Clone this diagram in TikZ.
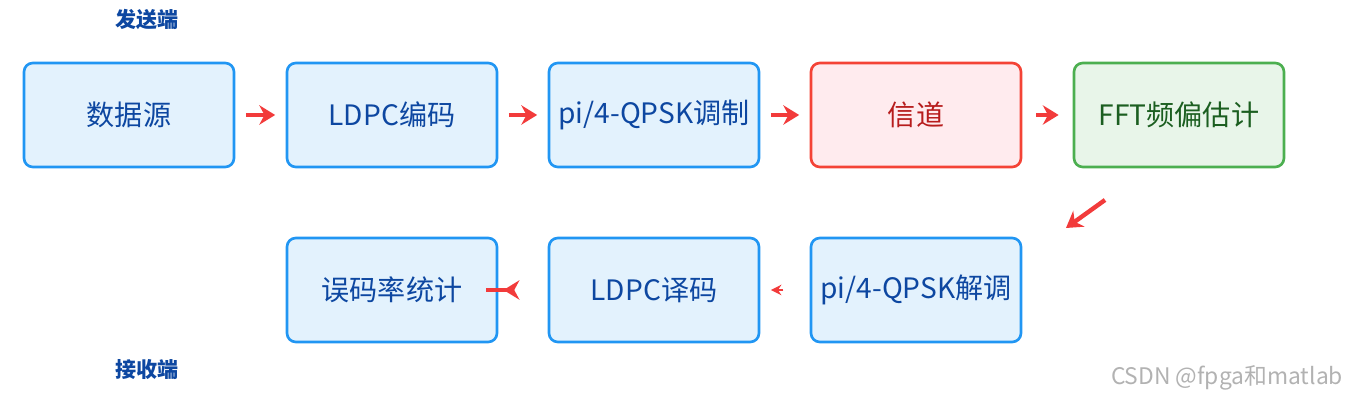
\documentclass[tikz,border=0pt]{standalone}
\usepackage{fontspec}
\setmainfont{Liberation Sans}
\newfontfamily\cjk{Noto Sans CJK SC}
\usetikzlibrary{arrows.meta}
\definecolor{bluebd}{HTML}{2196F3}
\definecolor{bluefl}{HTML}{E3F2FD}
\definecolor{bluetx}{HTML}{0D47A1}
\definecolor{redbd}{HTML}{F44336}
\definecolor{redfl}{HTML}{FFEBEE}
\definecolor{redtx}{HTML}{B71C1C}
\definecolor{grnbd}{HTML}{4CAF50}
\definecolor{grnfl}{HTML}{E8F5E9}
\definecolor{grntx}{HTML}{1B5E20}
\definecolor{arr}{HTML}{F23B3B}
\tikzset{
  blk/.style={draw=bluebd,fill=bluefl,text=bluetx,line width=1.5pt,rounded corners=5pt,
    minimum width=4.2cm,minimum height=2.08cm,font=\cjk\fontsize{16}{18}\selectfont},
  chan/.style={blk,draw=redbd,fill=redfl,text=redtx},
  fft/.style={blk,draw=grnbd,fill=grnfl,text=grntx},
  flow/.style={arr,line width=2.5pt,-{Stealth[length=9pt,width=11pt]}},
  side/.style={text=bluetx,font=\cjk\bfseries\fontsize{12}{14}\selectfont}
}
\begin{document}
\begin{tikzpicture}[x=0.02cm,y=-0.02cm]
  \useasboundingbox (0,0) rectangle (1360,401);
  % sender side
  \node[side] (tx) at (147,20) {发送端};
  \node[blk] (src) at (129,115) {数据源};
  \node[blk] (enc) at (392,115) {LDPC编码};
  \node[blk] (mod) at (654,115) {pi/4-QPSK调制};
  \node[chan] (ch) at (916,115) {信道};
  \node[fft] (est) at (1179,115) {FFT频偏估计};
  % receiver side
  \node[blk] (dem) at (916,290) {pi/4-QPSK解调};
  \node[blk] (dec) at (654,290) {LDPC译码};
  \node[blk] (ber) at (392,290) {误码率统计};
  \node[side] (rx) at (147,370) {接收端};
  % arrows
  \draw[flow,shorten <=6pt,shorten >=6pt] (src) -- (enc);
  \draw[flow,shorten <=6pt,shorten >=6pt] (enc) -- (mod);
  \draw[flow,shorten <=6pt,shorten >=6pt] (mod) -- (ch);
  \draw[flow,shorten <=8pt,shorten >=8pt] (ch) -- (est);
  \coordinate (a1) at (1105,200);
  \coordinate (a2) at (1066,228);
  \draw[flow] (a1) -- (a2);
  \draw[flow,line width=1.2pt,-{Stealth[length=6pt,width=6pt]},shorten <=15pt,shorten >=6pt] (dem) -- (dec);
  \draw[flow,shorten <=35pt,shorten >=3pt] (dec) -- (ber);
  % watermark
  \node[text=gray!60,font=\cjk\fontsize{13}{15}\selectfont] (wm) at (1227,378) {CSDN @fpga和matlab};
\end{tikzpicture}
\end{document}
